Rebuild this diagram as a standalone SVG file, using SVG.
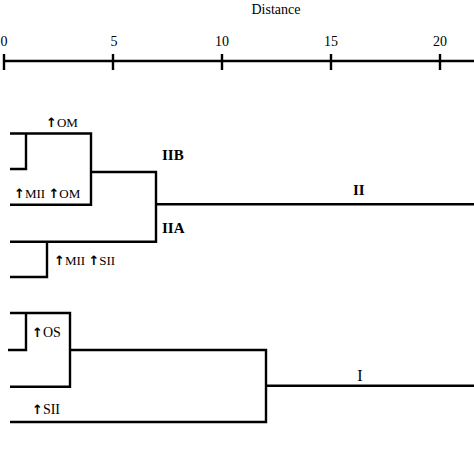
<svg xmlns="http://www.w3.org/2000/svg" width="474" height="474" viewBox="0 0 474 474">
<style>
.ln{fill:none;stroke:#000;stroke-width:2.4;stroke-linecap:butt;stroke-linejoin:miter}
.t{font-family:"Liberation Serif","DejaVu Serif",serif;font-size:13px;fill:#000}
.n{font-family:"Liberation Serif","DejaVu Serif",serif;font-size:14px;fill:#000}
.b{font-family:"Liberation Serif","DejaVu Serif",serif;font-size:15px;font-weight:bold;fill:#000}
.a{font-family:"DejaVu Sans",sans-serif;font-weight:bold;font-size:13px}
</style>
<rect width="474" height="474" fill="#fff"/>
<g id="axis">
<text class="n" x="276" y="14" text-anchor="middle">Distance</text>
<path class="ln" d="M4 61H474M4 54V70M113 54V70M222 54V70M331 54V70M440 54V70"/>
<text class="n" x="4" y="46" text-anchor="middle">0</text>
<text class="n" x="114" y="46" text-anchor="middle">5</text>
<text class="n" x="222" y="46" text-anchor="middle">10</text>
<text class="n" x="331" y="46" text-anchor="middle">15</text>
<text class="n" x="440" y="46" text-anchor="middle">20</text>
</g>
<g id="connectors">
<path class="ln" d="M10 133.5H91V204.7H10M26 133.5V169H10M91 172H156V241.7H10M47 241.7V277H10M156 204.3H474"/>
<path class="ln" d="M10 313H70V386.7H10M26 313V350H8M70 350H266V422H10M266 385.7H474"/>
</g>
<g id="node-IIB">
<text class="t" x="46" y="127"><tspan class="a">↑</tspan>OM</text>
<text class="t" x="14" y="198"><tspan class="a">↑</tspan>MII <tspan class="a">↑</tspan>OM</text>
<text class="b" x="162" y="160">IIB</text>
</g>
<g id="node-IIA">
<text class="t" x="54" y="265"><tspan class="a">↑</tspan>MII <tspan class="a">↑</tspan>SII</text>
<text class="b" x="162" y="233">IIA</text>
</g>
<g id="node-II">
<text class="b" x="353" y="195">II</text>
</g>
<g id="node-I">
<text class="t" x="32" y="337" style="font-size:14px"><tspan class="a">↑</tspan>OS</text>
<text class="t" x="32" y="414" style="font-size:14px"><tspan class="a">↑</tspan>SII</text>
<text class="t" x="360" y="381" text-anchor="middle" style="font-size:16px">I</text>
</g>
</svg>
